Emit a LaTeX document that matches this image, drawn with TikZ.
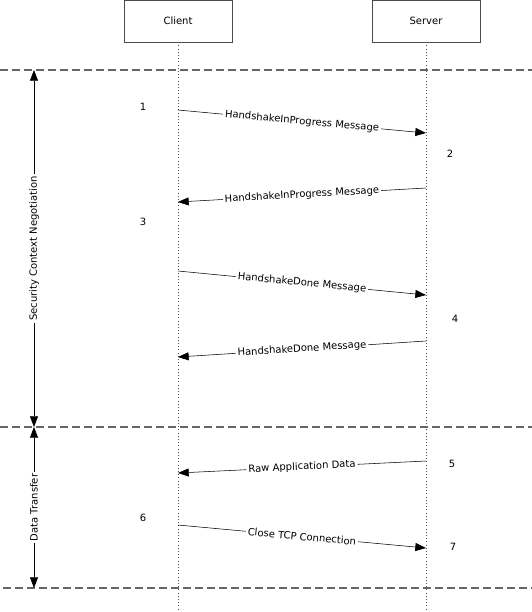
\documentclass[tikz,border=0pt]{standalone}
\usepackage{fontspec}
\setmainfont{DejaVu Sans}
\usetikzlibrary{positioning, arrows.meta}

\begin{document}
\begin{tikzpicture}[x=0.75pt, y=-0.75pt, font=\fontsize{7.5}{9}\selectfont,
    actor/.style={rectangle, draw=black!70, minimum width=81pt, minimum height=31.5pt},
    msg/.style={-{Triangle[length=8pt,width=6pt]}},
    lbl/.style={midway, sloped, fill=white, inner sep=1.5pt},
    phase/.style={{Triangle[length=8pt,width=6pt]}-{Triangle[length=8pt,width=6pt]}},
    divider/.style={draw=black!60, line width=1pt, dash pattern=on 6pt off 3pt}]
    \useasboundingbox (0,0) rectangle (532,612);

    % participants and lifelines
    \node[actor] (client) at (178,21) {Client};
    \node[actor] (server) at (426,21) {Server};
    \coordinate (clientend) at (178,612);
    \coordinate (serverend) at (426,612);
    \draw[dotted, black!70] (client.south) -- (clientend);
    \draw[dotted, black!70] (server.south) -- (serverend);

    % phase dividers
    \coordinate (d1l) at (0,70);   \coordinate (d1r) at (532,70);
    \coordinate (d2l) at (0,427);  \coordinate (d2r) at (532,427);
    \coordinate (d3l) at (3,588);  \coordinate (d3r) at (532,588);
    \path[divider] (d1l) -- (d1r);
    \path[divider] (d2l) -- (d2r);
    \path[divider] (d3l) -- (d3r);

    % phases
    \coordinate (p1) at (34,70);
    \coordinate (p2) at (34,427);
    \coordinate (p3) at (34,588);
    \draw[phase] (p1) -- node[midway, fill=white, rotate=90, inner sep=1.5pt] {Security Context Negotiation} (p2);
    \draw[phase] (p2) -- node[midway, fill=white, rotate=90, inner sep=1.5pt] {Data Transfer} (p3);

    % message end points
    \coordinate (c1) at (178,110); \coordinate (s1) at (426,133);
    \coordinate (s2) at (426,188); \coordinate (c2) at (178,202);
    \coordinate (c3) at (178,271); \coordinate (s3) at (426,295);
    \coordinate (s4) at (426,341); \coordinate (c4) at (178,357);
    \coordinate (s5) at (426,461); \coordinate (c5) at (178,473);
    \coordinate (c6) at (178,525); \coordinate (s6) at (426,548);

    % messages
    \draw[msg] (c1) -- node[lbl] {HandshakeInProgress Message} (s1);
    \draw[msg] (s2) -- node[lbl] {HandshakeInProgress Message} (c2);
    \draw[msg] (c3) -- node[lbl] {HandshakeDone Message} (s3);
    \draw[msg] (s4) -- node[lbl] {HandshakeDone Message} (c4);
    \draw[msg] (s5) -- node[lbl] {Raw Application Data} (c5);
    \draw[msg] (c6) -- node[lbl] {Close TCP Connection} (s6);

    % step numbers
    \node (n1) at (143,107) {1};
    \node (n2) at (450,154) {2};
    \node (n3) at (143,222) {3};
    \node (n4) at (455,319) {4};
    \node (n5) at (452,464) {5};
    \node (n6) at (143,518) {6};
    \node (n7) at (453,547) {7};
\end{tikzpicture}
\end{document}
